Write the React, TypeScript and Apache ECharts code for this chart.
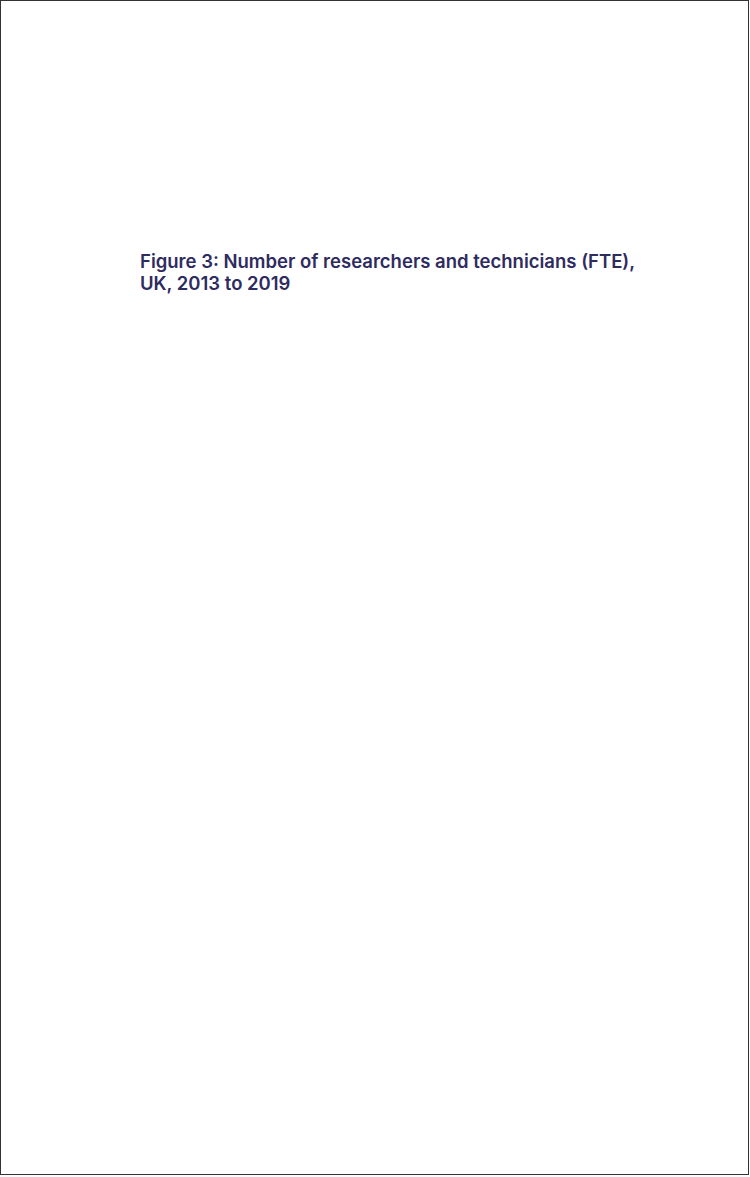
import { useEffect, useRef } from 'react';
import * as echarts from 'echarts';

// The figure holds only its caption; no marks are drawn in the reference.
const titleLines = ['Figure 3: Number of researchers and technicians (FTE),', 'UK, 2013 to 2019'];

const TITLE_COLOR = '#2e2b5f';

export default function App() {
  const elRef = useRef<HTMLDivElement>(null);

  useEffect(() => {
    document.body.style.margin = '0';
    const el = elRef.current;
    if (!el) return;
    const chart = echarts.init(el, undefined, { renderer: 'svg' });
    chart.setOption({
      animation: false,
      title: {
        text: titleLines.join('\n'),
        left: 134,
        top: 244,
        textStyle: {
          color: TITLE_COLOR,
          fontFamily: 'Inter',
          fontWeight: 600,
          fontSize: 18.5,
          lineHeight: 22,
        },
      },
    });
    return () => chart.dispose();
  }, []);

  return (
    <div
      style={{
        position: 'absolute',
        left: 0,
        top: 0,
        width: 749,
        height: 1175,
        boxSizing: 'border-box',
        border: '1px solid #333',
        background: '#fff',
      }}
    >
      <div ref={elRef} style={{ position: 'absolute', left: 0, top: 0, width: 747, height: 1173 }} />
    </div>
  );
}
